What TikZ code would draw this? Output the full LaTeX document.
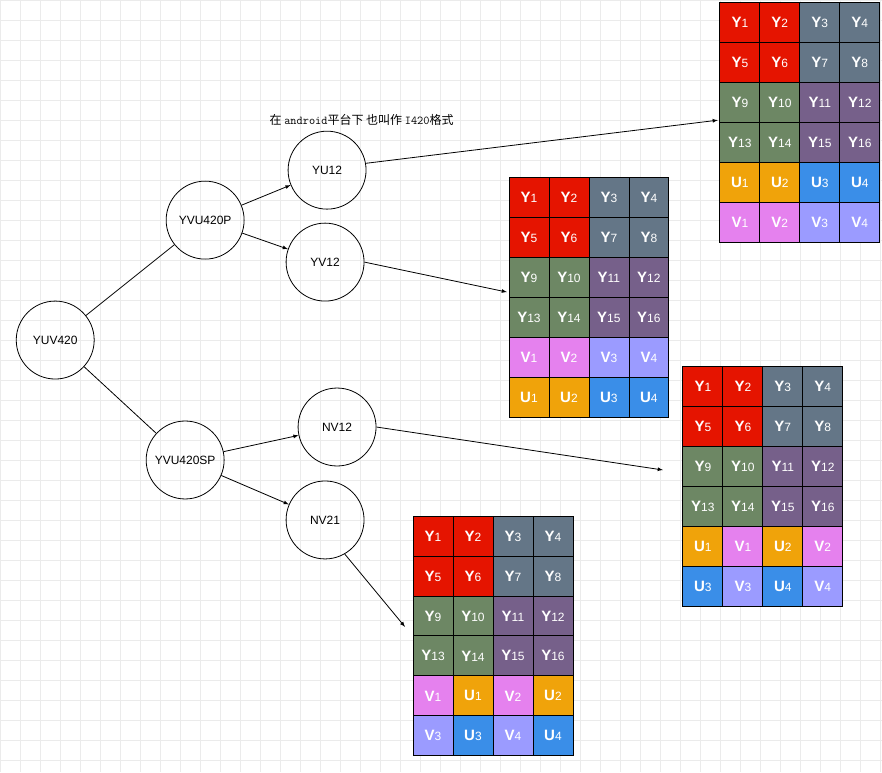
\documentclass[tikz,border=0pt]{standalone}
\usepackage{fontspec}
\setmainfont{Liberation Sans}
\newfontfamily\cjk{Noto Sans CJK SC}
\usetikzlibrary{positioning}
\definecolor{cred}{HTML}{E51400}
\definecolor{cslate}{HTML}{647687}
\definecolor{cgreen}{HTML}{6D8764}
\definecolor{cpurple}{HTML}{76608A}
\definecolor{corange}{HTML}{F0A30A}
\definecolor{cblue}{HTML}{3A8EE8}
\definecolor{cpink}{HTML}{E581EE}
\definecolor{clav}{HTML}{9B9BFF}
\tikzset{
  fmt/.style={circle,draw,line width=0.8pt,minimum size=78pt,inner sep=0pt,font=\fontsize{12}{14}\selectfont},
  cell/.style={draw,line width=0.8pt,minimum size=40pt,inner sep=0pt,text=white,font=\bfseries\fontsize{15}{17}\selectfont},
  link/.style={line width=0.8pt,-latex}
}
% one 4x6 block of samples
\newcommand{\planes}[4]{%
  \foreach \L/\N/\C [count=\i from 0] in {#4} {
    \pgfmathtruncatemacro{\r}{\i/4}
    \pgfmathtruncatemacro{\c}{mod(\i,4)}
    \node[cell,fill=\C] (#1-\r-\c) at ({#2+20+40*\c},{#3+20+40*\r}) {\L{\fontsize{12}{14}\selectfont\mdseries\N}};
  }}
\begin{document}
\begin{tikzpicture}[x=1pt,y=-1pt]
\fill[white] (0,0) rectangle (882,772);
\draw[black!8,line width=0.5pt,step=20pt] (0,0) grid (882,772);
\useasboundingbox (0,0) rectangle (882,772);

\node[fmt] (yuv) at (55,340) {YUV420};
\node[fmt] (p) at (205,220) {YVU420P};
\node[fmt] (sp) at (185,460) {YVU420SP};
\node[fmt] (yu12) at (327,170) {YU12};
\node[fmt] (yv12) at (325,262) {YV12};
\node[fmt] (nv12) at (337,427) {NV12};
\node[fmt] (nv21) at (325,520) {NV21};
\node[anchor=west,font=\cjk\fontsize{12}{14}\selectfont] (note) at (266,120) {在 \texttt{android}平台下 也叫作 \texttt{I420}格式};

\planes{a}{720}{2}{Y/1/cred,Y/2/cred,Y/3/cslate,Y/4/cslate,Y/5/cred,Y/6/cred,Y/7/cslate,Y/8/cslate,
  Y/9/cgreen,Y/10/cgreen,Y/11/cpurple,Y/12/cpurple,Y/13/cgreen,Y/14/cgreen,Y/15/cpurple,Y/16/cpurple,
  U/1/corange,U/2/corange,U/3/cblue,U/4/cblue,V/1/cpink,V/2/cpink,V/3/clav,V/4/clav}
\planes{b}{509}{177}{Y/1/cred,Y/2/cred,Y/3/cslate,Y/4/cslate,Y/5/cred,Y/6/cred,Y/7/cslate,Y/8/cslate,
  Y/9/cgreen,Y/10/cgreen,Y/11/cpurple,Y/12/cpurple,Y/13/cgreen,Y/14/cgreen,Y/15/cpurple,Y/16/cpurple,
  V/1/cpink,V/2/cpink,V/3/clav,V/4/clav,U/1/corange,U/2/corange,U/3/cblue,U/4/cblue}
\planes{c}{683}{366}{Y/1/cred,Y/2/cred,Y/3/cslate,Y/4/cslate,Y/5/cred,Y/6/cred,Y/7/cslate,Y/8/cslate,
  Y/9/cgreen,Y/10/cgreen,Y/11/cpurple,Y/12/cpurple,Y/13/cgreen,Y/14/cgreen,Y/15/cpurple,Y/16/cpurple,
  U/1/corange,V/1/cpink,U/2/corange,V/2/cpink,U/3/cblue,V/3/clav,U/4/cblue,V/4/clav}
\planes{d}{413}{516}{Y/1/cred,Y/2/cred,Y/3/cslate,Y/4/cslate,Y/5/cred,Y/6/cred,Y/7/cslate,Y/8/cslate,
  Y/9/cgreen,Y/10/cgreen,Y/11/cpurple,Y/12/cpurple,Y/13/cgreen,Y/14/cgreen,Y/15/cpurple,Y/16/cpurple,
  V/1/cpink,U/1/corange,V/2/cpink,U/2/corange,V/3/clav,U/3/cblue,V/4/clav,U/4/cblue}

\coordinate (ta) at (718,120);
\coordinate (tb) at (507,292);
\coordinate (tc) at (663,470);
\coordinate (td) at (405,627);

\draw[line width=0.8pt] (yuv) -- (p);
\draw[line width=0.8pt] (yuv) -- (sp);
\draw[link] (p) -- (yu12);
\draw[link] (p) -- (yv12);
\draw[link] (sp) -- (nv12);
\draw[link] (sp) -- (nv21);
\draw[link] (yu12.10) -- (ta);
\draw[link] (yv12.east) -- (tb);
\draw[link] (nv12.east) -- (tc);
\draw[link] (nv21.-60) -- (td);
\end{tikzpicture}
\end{document}
